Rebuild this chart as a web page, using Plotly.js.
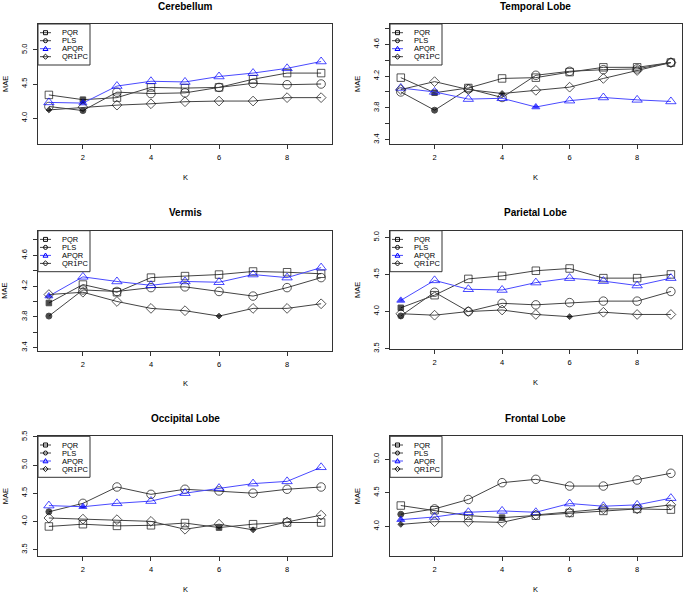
<!DOCTYPE html>
<html>
<head>
<meta charset="utf-8">
<script src="https://cdn.plot.ly/plotly-3.0.1.min.js"></script>
<style>html,body{margin:0;padding:0;background:#fff;}#plot{width:685px;height:594px;}</style>
</head>
<body>
<div id="plot"></div>
<script>
// ---------- data ----------
var K = [1, 2, 3, 4, 5, 6, 7, 8, 9];
var methods = ['PQR', 'PLS', 'APQR', 'QR1PC'];
var regions = ['Cerebellum', 'Temporal Lobe', 'Vermis', 'Parietal Lobe', 'Occipital Lobe', 'Frontal Lobe'];

var cerebellumPQR   = [4.34, 4.27, 4.30, 4.45, 4.44, 4.45, 4.57, 4.66, 4.66];
var cerebellumPLS   = [4.17, 4.11, 4.38, 4.36, 4.37, 4.45, 4.51, 4.49, 4.50];
var cerebellumAPQR  = [4.23, 4.22, 4.47, 4.54, 4.53, 4.61, 4.66, 4.73, 4.83];
var cerebellumQR1PC = [4.12, 4.16, 4.19, 4.21, 4.24, 4.25, 4.25, 4.30, 4.30];

var temporalPQR   = [4.18, 3.99, 4.05, 4.17, 4.18, 4.25, 4.31, 4.31, 4.37];
var temporalPLS   = [4.00, 3.77, 4.04, 3.93, 4.21, 4.26, 4.28, 4.29, 4.37];
var temporalAPQR  = [4.05, 4.00, 3.91, 3.92, 3.81, 3.89, 3.93, 3.90, 3.88];
var temporalQR1PC = [4.03, 4.13, 4.03, 3.98, 4.02, 4.06, 4.17, 4.27, 4.37];

var vermisPQR   = [3.98, 4.22, 4.12, 4.31, 4.33, 4.35, 4.39, 4.38, 4.36];
var vermisPLS   = [3.81, 4.15, 4.13, 4.18, 4.19, 4.13, 4.07, 4.18, 4.31];
var vermisAPQR  = [4.07, 4.32, 4.26, 4.21, 4.26, 4.25, 4.35, 4.31, 4.44];
var vermisQR1PC = [4.09, 4.12, 4.00, 3.91, 3.88, 3.81, 3.91, 3.91, 3.97];

var parietalPQR   = [4.05, 4.22, 4.44, 4.48, 4.55, 4.58, 4.45, 4.45, 4.50];
var parietalPLS   = [3.94, 4.26, 4.00, 4.11, 4.09, 4.12, 4.14, 4.14, 4.27];
var parietalAPQR  = [4.15, 4.42, 4.30, 4.29, 4.39, 4.45, 4.41, 4.35, 4.45];
var parietalQR1PC = [3.97, 3.95, 4.00, 4.02, 3.96, 3.93, 3.99, 3.96, 3.96];

var occipitalPQR   = [3.91, 3.95, 3.92, 3.93, 3.97, 3.89, 3.95, 3.98, 3.98];
var occipitalPLS   = [4.17, 4.32, 4.61, 4.48, 4.57, 4.54, 4.50, 4.57, 4.61];
var occipitalAPQR  = [4.28, 4.26, 4.32, 4.36, 4.50, 4.59, 4.67, 4.71, 4.96];
var occipitalQR1PC = [4.06, 4.04, 4.03, 4.00, 3.86, 3.95, 3.85, 3.99, 4.11];

var frontalPQR   = [4.31, 4.24, 4.16, 4.13, 4.16, 4.20, 4.23, 4.26, 4.25];
var frontalPLS   = [4.18, 4.26, 4.40, 4.65, 4.70, 4.60, 4.60, 4.69, 4.79];
var frontalAPQR  = [4.10, 4.14, 4.21, 4.23, 4.21, 4.34, 4.30, 4.32, 4.42];
var frontalQR1PC = [4.03, 4.07, 4.07, 4.06, 4.17, 4.21, 4.26, 4.26, 4.32];

var xTicks = [2, 4, 6, 8];
var yTicksCerebellum = [4.0, 4.5, 5.0];
var yTicksTemporal   = [3.4, 3.6, 3.8, 4.0, 4.2, 4.4, 4.6, 4.8];
var yLabelsTemporal  = ['3.4', '', '3.8', '', '4.2', '', '4.6', ''];
var yTicksVermis     = [3.4, 3.6, 3.8, 4.0, 4.2, 4.4, 4.6, 4.8];
var yLabelsVermis    = ['3.4', '', '3.8', '', '4.2', '', '4.6', ''];
var yTicksParietal   = [3.5, 4.0, 4.5, 5.0];
var yTicksOccipital  = [3.5, 4.0, 4.5, 5.0, 5.5];
var yTicksFrontal    = [4.0, 4.5, 5.0];

// ---------- layout constants ----------
var W = 685, H = 594;
var panelSeries = [
  [cerebellumPQR, cerebellumPLS, cerebellumAPQR, cerebellumQR1PC],
  [temporalPQR, temporalPLS, temporalAPQR, temporalQR1PC],
  [vermisPQR, vermisPLS, vermisAPQR, vermisQR1PC],
  [parietalPQR, parietalPLS, parietalAPQR, parietalQR1PC],
  [occipitalPQR, occipitalPLS, occipitalAPQR, occipitalQR1PC],
  [frontalPQR, frontalPLS, frontalAPQR, frontalQR1PC]
];
var yTickVals = [yTicksCerebellum, yTicksTemporal, yTicksVermis, yTicksParietal, yTicksOccipital, yTicksFrontal];
var yTickText = [null, yLabelsTemporal, yLabelsVermis, null, null, null];
var yRanges = [[3.62, 5.38], [3.344, 4.856], [3.36, 4.92], [3.49, 5.09], [3.38, 5.51], [3.555, 5.34]];
// pixel boxes [left, right, top, bottom]
var boxes = [
  [38, 332, 24, 144], [390, 681.7, 24, 144],
  [38, 332, 230.7, 350.7], [390, 681.7, 230.7, 349.3],
  [38, 332, 436.3, 556.3], [390, 681.7, 436.3, 556.3]
];

var openSym = ['square-open', 'circle-open', 'triangle-up-open', 'diamond-open'];
var fillSym = ['square', 'circle', 'triangle-up', 'diamond'];
var openSize = [7.5, 8.5, 9, 7.5];
var fillSize = [5.5, 6, 7, 4.5];
var markColor = ['#111', '#111', '#0000ff', '#111'];
var fillColor = ['#000', '#000', '#0000ff', '#000'];
var lineColor = ['#444', '#444', '#4a4aff', '#444'];

var FONT = 'Liberation Sans, Arial, Helvetica, sans-serif';
var TXT = '#000';

var data = [];
var layout = {
  width: W, height: H,
  margin: {l: 0, r: 0, t: 0, b: 0},
  paper_bgcolor: '#fff', plot_bgcolor: '#fff',
  showlegend: false,
  font: {family: FONT, size: 7.5, color: TXT},
  shapes: [], annotations: []
};

function argmin(a) {
  var m = 0;
  for (var i = 1; i < a.length; i++) if (a[i] < a[m]) m = i;
  return m;
}

for (var p = 0; p < 6; p++) {
  var sfx = p === 0 ? '' : String(p + 1);
  var b = boxes[p];
  var xa = {
    domain: [b[0] / W, b[1] / W],
    range: [0.68, 9.32],
    anchor: 'y' + sfx,
    tickvals: xTicks,
    ticks: 'outside', ticklen: 4, tickcolor: '#333', tickwidth: 1,
    showline: true, mirror: true, linecolor: '#333', linewidth: 1,
    showgrid: false, zeroline: false,
    tickfont: {family: FONT, size: 7.5, color: TXT},
    ticklabelstandoff: 2
  };
  var ya = {
    domain: [1 - b[3] / H, 1 - b[2] / H],
    range: yRanges[p],
    anchor: 'x' + sfx,
    tickvals: yTickVals[p],
    ticks: 'outside', ticklen: 4, tickcolor: '#333', tickwidth: 1,
    showline: true, mirror: true, linecolor: '#333', linewidth: 1,
    showgrid: false, zeroline: false,
    tickangle: -90,
    tickfont: {family: FONT, size: 7.5, color: TXT},
    ticklabelstandoff: 3
  };
  if (yTickText[p]) ya.ticktext = yTickText[p];
  else ya.ticktext = yTickVals[p].map(function (v) { return v.toFixed(1); });
  layout['xaxis' + sfx] = xa;
  layout['yaxis' + sfx] = ya;

  for (var s = 0; s < 4; s++) {
    var vals = panelSeries[p][s];
    var mi = argmin(vals);
    var syms = vals.map(function (v, i) { return i === mi ? fillSym[s] : openSym[s]; });
    var sizes = vals.map(function (v, i) { return i === mi ? fillSize[s] : openSize[s]; });
    var cols = vals.map(function (v, i) { return i === mi ? fillColor[s] : markColor[s]; });
    data.push({
      type: 'scatter', mode: 'lines+markers',
      x: K, y: vals,
      xaxis: 'x' + sfx, yaxis: 'y' + sfx,
      name: methods[s],
      line: {color: lineColor[s], width: 1},
      marker: {symbol: syms, size: sizes, color: cols, line: {color: cols, width: 1}},
      hoverinfo: 'x+y+name'
    });
  }

  var xd = 'x' + sfx + ' domain', yd = 'y' + sfx + ' domain';
  // title
  layout.annotations.push({
    xref: xd, yref: yd, x: 0.5, y: 1, yshift: 18, xanchor: 'center', yanchor: 'middle',
    text: '<b>' + regions[p] + '</b>', showarrow: false,
    font: {family: FONT, size: 10, color: '#000'}
  });
  // axis titles
  layout.annotations.push({
    xref: xd, yref: yd, x: 0.5, y: 0, yshift: -33, xanchor: 'center', yanchor: 'middle',
    text: 'K', showarrow: false, font: {family: FONT, size: 7.5, color: TXT}
  });
  layout.annotations.push({
    xref: xd, yref: yd, x: 0, y: 0.5, xshift: -33, xanchor: 'center', yanchor: 'middle',
    text: 'MAE', textangle: -90, showarrow: false, font: {family: FONT, size: 7.5, color: TXT}
  });

  // legend box
  var pix = {xref: xd, yref: yd, xsizemode: 'pixel', ysizemode: 'pixel', xanchor: 0, yanchor: 1};
  layout.shapes.push(Object.assign({}, pix, {
    type: 'rect', x0: 0, x1: 52, y0: 0, y1: -41,
    line: {color: '#333', width: 1}, fillcolor: '#fff', layer: 'above'
  }));
  for (var r = 0; r < 4; r++) {
    var cy = -(8.7 + 8 * r);
    layout.shapes.push(Object.assign({}, pix, {
      type: 'line', x0: 2, x1: 13, y0: cy, y1: cy,
      line: {color: lineColor[r], width: 1}, layer: 'above'
    }));
    var mk;
    if (r === 0) mk = {type: 'rect', x0: 5.5, x1: 9.5, y0: cy - 2, y1: cy + 2};
    else if (r === 1) mk = {type: 'circle', x0: 5.5, x1: 9.5, y0: cy - 2, y1: cy + 2};
    else if (r === 2) mk = {type: 'path', path: 'M5,' + (cy - 1.8) + ' L10,' + (cy - 1.8) + ' L7.5,' + (cy + 2.4) + ' Z'};
    else mk = {type: 'path', path: 'M7.5,' + (cy + 2.6) + ' L10.1,' + cy + ' L7.5,' + (cy - 2.6) + ' L4.9,' + cy + ' Z'};
    layout.shapes.push(Object.assign({}, pix, mk, {
      line: {color: markColor[r], width: 1}, fillcolor: 'rgba(0,0,0,0)', layer: 'above'
    }));
    layout.annotations.push({
      xref: xd, yref: yd, x: 0, y: 1, xshift: 22, yshift: cy, xanchor: 'left', yanchor: 'middle',
      text: methods[r], showarrow: false, font: {family: FONT, size: 7.5, color: TXT}
    });
  }
}

Plotly.newPlot('plot', data, layout, {staticPlot: true, displayModeBar: false});
</script>
</body>
</html>
